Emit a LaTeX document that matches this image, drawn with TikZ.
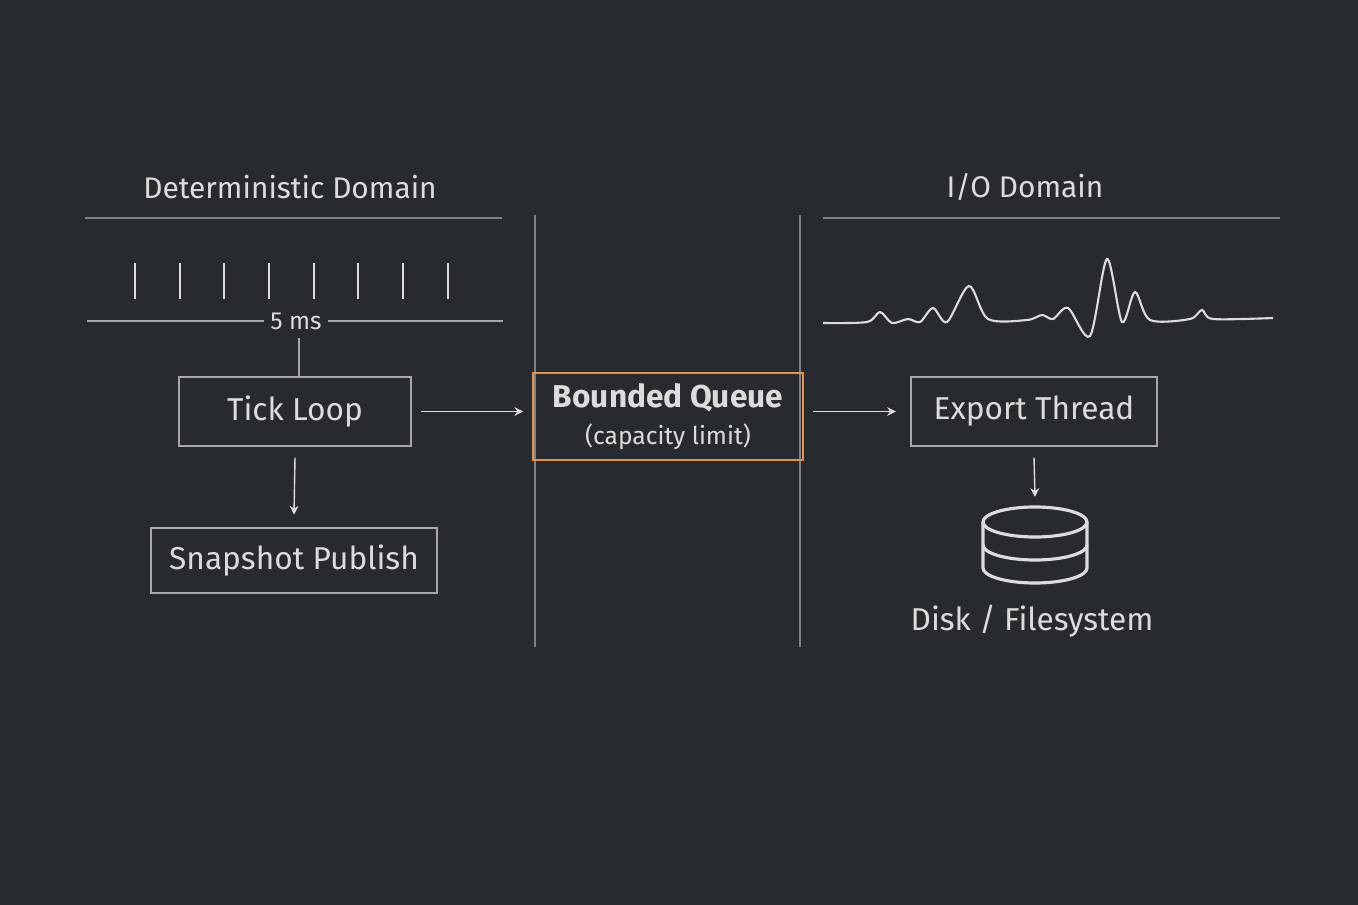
\documentclass[tikz,border=0pt]{standalone}
\usepackage{fontspec}
\setmainfont{Fira Sans}
\usetikzlibrary{arrows.meta, positioning}
\definecolor{bgcol}{HTML}{272B2F}
\definecolor{inkcol}{HTML}{DCDCDC}
\definecolor{rulecol}{HTML}{7E8185}
\definecolor{boxcol}{HTML}{A6A8AA}
\definecolor{queuecol}{HTML}{E39448}
\begin{document}
\begin{tikzpicture}[x=0.02cm, y=-0.02cm, >={Stealth[length=5pt, width=5pt]},
  every node/.style={text=inkcol},
  block/.style={draw=boxcol, line width=1.2pt, inner sep=0pt, font=\fontsize{18}{22}\selectfont},
  rule/.style={draw=rulecol, line width=0.6pt},
  flow/.style={draw=inkcol, line width=0.8pt, ->}]
  % Background
  \fill[bgcol] (0,0) rectangle (1358,905);
  \useasboundingbox (0,0) rectangle (1358,905);

  % Domain titles
  \node[font=\fontsize{17}{20}\selectfont] (dettitle) at (290,187) {Deterministic Domain};
  \node[font=\fontsize{17}{20}\selectfont] (iotitle) at (1025,187) {I/O Domain};
  \draw[rule] (85,218) -- (502,218);
  \draw[rule] (823,218) -- (1280,218);

  % Separators
  \draw[rule] (535,215) -- (535,647);
  \draw[rule] (800,215) -- (800,647);

  % Ticks
  \foreach \tx in {135,180,224,269,314,358,403,448}
    \draw[inkcol, line width=1.6pt] (\tx,263) -- (\tx,299);

  % Period
  \node[font=\fontsize{14}{17}\selectfont] (period) at (296,321) {5 ms};
  \coordinate (tl) at (87,321);
  \coordinate (tr) at (503,321);
  \draw[boxcol, line width=0.8pt] (tl) -- (period.west);
  \draw[boxcol, line width=0.8pt] (period.east) -- (tr);

  % Blocks
  \node[block, minimum width=4.64cm, minimum height=1.38cm] (tick) at (295,411.5) {Tick Loop};
  \node[block, minimum width=5.72cm, minimum height=1.3cm] (snap) at (294,560.5) {Snapshot Publish};
  \node[block, draw=queuecol, minimum width=5.4cm, minimum height=1.74cm, align=center] (queue) at (668,416.5)
    {\textbf{Bounded Queue}\\[-1pt]{\fontsize{14}{17}\selectfont (capacity limit)}};
  \node[block, minimum width=4.92cm, minimum height=1.38cm] (export) at (1034,411.5) {Export Thread};
  \node[font=\fontsize{18}{22}\selectfont] (disk) at (1032,621) {Disk / Filesystem};

  % Connections
  \coordinate (pj) at (299,338);
  \draw[boxcol, line width=0.8pt] (pj) -- (pj |- tick.north);
  \draw[flow] ([yshift=-6pt]tick.south) -- ([yshift=7pt]snap.north);
  \draw[flow] ([xshift=5pt]tick.east) -- ([xshift=-5pt]queue.west |- tick.east);
  \draw[flow] ([xshift=5pt]queue.east |- export.west) -- ([xshift=-8pt]export.west);
  \coordinate (dbtop) at (1035,497);
  \draw[flow] ([yshift=-6pt]export.south) -- (dbtop);

  % Waveform
  \draw[inkcol, line width=1.2pt, smooth, tension=0.5] plot coordinates {
    (823,323) (867,322) (880,312) (892,323) (908,319) (920,322) (933,308) (947,322)
    (969,286) (988,319) (1027,320) (1042,315) (1053,319) (1068,308) (1090,336)
    (1107,259) (1122,322) (1135,292) (1150,320) (1190,319) (1202,310) (1213,319) (1273,318)};

  % Disk
  \draw[inkcol, line width=1.8pt] (983,522) -- (983,568) arc[start angle=180, end angle=0, x radius=52, y radius=15] -- (1087,522);
  \draw[inkcol, line width=1.8pt] (1035,522) ellipse[x radius=52, y radius=15];
  \draw[inkcol, line width=1.8pt] (983,545) arc[start angle=180, end angle=0, x radius=52, y radius=15];
\end{tikzpicture}
\end{document}
